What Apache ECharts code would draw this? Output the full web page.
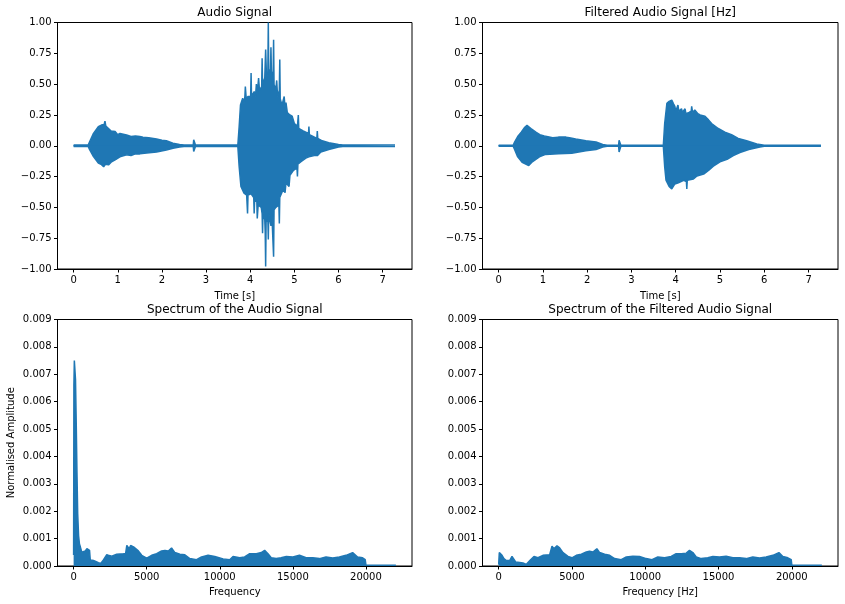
<!DOCTYPE html>
<html>
<head>
<meta charset="utf-8">
<script src="https://cdn.jsdelivr.net/npm/echarts@6/dist/echarts.min.js"></script>
<style>
html,body{margin:0;padding:0;background:#fff;}
#c{width:845px;height:604px;}
</style>
</head>
<body>
<div id="c"></div>
<script>
// ---- tick labels ----
const timeTicks = [0, 1, 2, 3, 4, 5, 6, 7];
const freqTicks = [0, 5000, 10000, 15000, 20000];

// ---- audio signal envelope [time s, amplitude] ----
const rawUpper = [[0,0.006],[0.33,0.006],[0.36,0.03],[0.45,0.10],[0.56,0.155],[0.64,0.17],[0.69,0.17],[0.71,0.20],[0.73,0.16],[0.79,0.14],[0.85,0.12],[0.94,0.115],[1.0,0.09],[1.05,0.10],[1.2,0.088],[1.3,0.075],[1.4,0.08],[1.5,0.075],[1.57,0.07],[1.7,0.065],[1.88,0.055],[2.0,0.045],[2.1,0.04],[2.25,0.02],[2.4,0.01],[2.5,0.006],[2.71,0.006],[2.72,0.048],[2.75,0.048],[2.76,0.006],[3.72,0.006],[3.75,0.156],[3.78,0.33],[3.83,0.386],[3.86,0.34],[3.88,0.40],[3.89,0.48],[3.91,0.38],[3.95,0.40],[4.01,0.40],[4.02,0.59],[4.03,0.40],[4.09,0.44],[4.12,0.40],[4.14,0.50],[4.16,0.42],[4.19,0.55],[4.21,0.45],[4.26,0.48],[4.27,0.71],[4.28,0.50],[4.33,0.55],[4.35,0.78],[4.37,0.55],[4.40,0.60],[4.41,1.0],[4.42,0.60],[4.46,0.62],[4.47,0.80],[4.48,0.60],[4.52,0.58],[4.53,0.86],[4.54,0.50],[4.58,0.45],[4.60,0.53],[4.62,0.40],[4.66,0.45],[4.67,0.70],[4.68,0.38],[4.72,0.33],[4.77,0.40],[4.79,0.30],[4.81,0.35],[4.84,0.27],[4.90,0.25],[4.95,0.24],[5.0,0.18],[5.07,0.16],[5.09,0.25],[5.10,0.14],[5.2,0.12],[5.32,0.10],[5.33,0.156],[5.34,0.09],[5.4,0.08],[5.51,0.06],[5.52,0.12],[5.53,0.06],[5.63,0.04],[5.78,0.025],[6.0,0.01],[6.1,0.006],[7.28,0.006]];
const rawLower = [[0,-0.006],[0.33,-0.006],[0.36,-0.03],[0.45,-0.088],[0.56,-0.14],[0.62,-0.15],[0.68,-0.17],[0.72,-0.15],[0.79,-0.155],[0.86,-0.13],[0.94,-0.115],[1.05,-0.09],[1.2,-0.074],[1.3,-0.08],[1.4,-0.066],[1.5,-0.066],[1.6,-0.06],[1.88,-0.05],[2.1,-0.035],[2.25,-0.02],[2.4,-0.01],[2.5,-0.006],[2.71,-0.006],[2.72,-0.047],[2.75,-0.047],[2.76,-0.006],[3.72,-0.006],[3.75,-0.17],[3.79,-0.33],[3.86,-0.385],[3.92,-0.40],[3.94,-0.55],[3.95,-0.40],[4.02,-0.39],[4.08,-0.42],[4.09,-0.55],[4.10,-0.45],[4.15,-0.45],[4.16,-0.59],[4.18,-0.48],[4.25,-0.50],[4.27,-0.55],[4.28,-0.71],[4.29,-0.55],[4.33,-0.60],[4.34,-0.70],[4.35,-0.98],[4.36,-0.62],[4.40,-0.60],[4.41,-0.76],[4.42,-0.55],[4.47,-0.65],[4.49,-0.55],[4.52,-0.55],[4.53,-0.90],[4.54,-0.52],[4.58,-0.50],[4.65,-0.48],[4.66,-0.63],[4.67,-0.42],[4.74,-0.36],[4.79,-0.38],[4.81,-0.30],[4.88,-0.33],[4.90,-0.24],[4.98,-0.20],[5.06,-0.18],[5.07,-0.25],[5.08,-0.15],[5.15,-0.13],[5.26,-0.10],[5.33,-0.09],[5.45,-0.08],[5.52,-0.08],[5.6,-0.05],[5.78,-0.03],[6.0,-0.01],[6.1,-0.006],[7.28,-0.006]];

// ---- filtered audio signal envelope [time s, amplitude] ----
const filtUpper = [[0,0.005],[0.33,0.005],[0.36,0.03],[0.43,0.075],[0.51,0.11],[0.59,0.15],[0.62,0.16],[0.64,0.165],[0.68,0.15],[0.73,0.14],[0.84,0.11],[0.93,0.09],[1.03,0.08],[1.22,0.065],[1.35,0.07],[1.52,0.07],[1.6,0.065],[1.74,0.055],[1.97,0.04],[2.2,0.03],[2.35,0.01],[2.45,0.005],[2.71,0.005],[2.72,0.045],[2.75,0.045],[2.76,0.005],[3.72,0.005],[3.75,0.18],[3.80,0.345],[3.85,0.36],[3.91,0.37],[3.95,0.34],[3.98,0.32],[4.00,0.28],[4.02,0.28],[4.05,0.33],[4.07,0.28],[4.10,0.27],[4.13,0.30],[4.15,0.27],[4.21,0.30],[4.23,0.26],[4.30,0.27],[4.35,0.28],[4.36,0.32],[4.38,0.27],[4.43,0.29],[4.50,0.26],[4.55,0.25],[4.66,0.24],[4.74,0.21],[4.81,0.18],[4.96,0.14],[5.11,0.11],[5.26,0.09],[5.41,0.06],[5.60,0.04],[5.83,0.015],[6.0,0.005],[7.28,0.005]];
const filtLower = [[0,-0.005],[0.33,-0.005],[0.36,-0.03],[0.43,-0.09],[0.53,-0.135],[0.68,-0.16],[0.76,-0.13],[0.92,-0.09],[1.06,-0.07],[1.35,-0.065],[1.65,-0.06],[1.97,-0.04],[2.2,-0.03],[2.35,-0.01],[2.45,-0.005],[2.71,-0.005],[2.72,-0.05],[2.75,-0.05],[2.76,-0.005],[3.72,-0.005],[3.75,-0.17],[3.78,-0.28],[3.85,-0.33],[3.91,-0.35],[3.98,-0.31],[4.06,-0.30],[4.18,-0.28],[4.24,-0.29],[4.25,-0.35],[4.26,-0.28],[4.40,-0.27],[4.48,-0.245],[4.63,-0.23],[4.74,-0.20],[4.85,-0.165],[5.0,-0.13],[5.16,-0.11],[5.3,-0.08],[5.45,-0.055],[5.65,-0.03],[5.9,-0.01],[6.0,-0.005],[7.28,-0.005]];

// ---- spectra [frequency Hz, normalised amplitude] ----
const specRaw = [[0,0.0004],[20,0.0066],[50,0.0075],[90,0.0075],[130,0.0068],[180,0.0052],[230,0.0034],[280,0.0019],[340,0.0011],[400,0.0008],[460,0.0007],[560,0.0005],[680,0.0005],[800,0.00055],[910,0.00063],[1020,0.0006],[1090,0.00057],[1140,0.00022],[1360,0.0002],[1480,0.00018],[1700,0.00012],[1860,0.00009],[1930,0.00007],[2050,0.00023],[2270,0.00041],[2450,0.00038],[2610,0.00036],[2950,0.00043],[3410,0.00045],[3560,0.00046],[3640,0.00075],[3700,0.0007],[3800,0.00063],[3900,0.00075],[3980,0.00078],[4100,0.0007],[4200,0.00067],[4430,0.00055],[4660,0.00039],[5000,0.00029],[5340,0.00039],[5680,0.00045],[6020,0.00055],[6250,0.00057],[6480,0.00055],[6700,0.00066],[6930,0.00049],[7270,0.00043],[7610,0.00041],[7950,0.00027],[8410,0.00023],[8750,0.00033],[9200,0.00039],[9660,0.00035],[10230,0.00026],[10680,0.00023],[10910,0.00035],[11360,0.0003],[11700,0.00033],[12050,0.00045],[12500,0.00045],[12840,0.00049],[13070,0.00057],[13300,0.00045],[13520,0.0003],[13860,0.00027],[14200,0.0003],[14550,0.00035],[15000,0.00033],[15450,0.00039],[15910,0.0003],[16360,0.0003],[16820,0.00027],[17270,0.00033],[17730,0.00029],[18180,0.00033],[18640,0.00039],[19090,0.00049],[19430,0.00033],[19770,0.0003],[19950,0.00023],[20000,0.00004],[20050,0.00003],[22050,0.00003]];
const specFilt = [[0,0.00005],[45,0.00049],[140,0.0005],[230,0.00039],[360,0.00027],[520,0.0002],[750,0.0002],[910,0.00035],[1020,0.00035],[1160,0.00015],[1430,0.00013],[1660,0.00011],[1890,0.00006],[2000,0.00007],[2180,0.00023],[2410,0.00035],[2680,0.0003],[3020,0.00039],[3480,0.00041],[3600,0.00045],[3640,0.00072],[3770,0.00063],[3980,0.00074],[4160,0.00066],[4390,0.00049],[4730,0.00035],[5000,0.0003],[5300,0.00039],[5640,0.00043],[5980,0.00051],[6200,0.00054],[6430,0.00051],[6700,0.00063],[6890,0.00049],[7230,0.00043],[7570,0.00039],[7910,0.00027],[8360,0.00023],[8710,0.00033],[9160,0.00036],[9610,0.00035],[10070,0.00027],[10460,0.00023],[10860,0.00033],[11320,0.0003],[11770,0.00035],[12110,0.00045],[12460,0.00045],[12800,0.00047],[13020,0.00057],[13250,0.00049],[13480,0.00033],[13820,0.00027],[14270,0.0003],[14620,0.00035],[15070,0.00033],[15520,0.00036],[15980,0.0003],[16430,0.0003],[16890,0.00027],[17340,0.00033],[17800,0.00029],[18250,0.00033],[18710,0.00039],[19120,0.00049],[19390,0.00035],[19730,0.0003],[19960,0.00023],[20000,0.00004],[20050,0.00003],[22050,0.00003]];

const BLUE = '#1f77b4';
const FONT = 'DejaVu Sans';
const INK = '#000';
const grids = [
  {left: 57.5, top: 22.5, width: 354.5, height: 246.5},
  {left: 482.5, top: 22.5, width: 355.5, height: 246.5},
  {left: 57.5, top: 319.5, width: 354.5, height: 246.5},
  {left: 482.5, top: 319.5, width: 355.5, height: 246.5}
];
const fmtSigned = d => v => (v < 0 ? '\u2212' : '') + Math.abs(v).toFixed(d);

function xAxisFor(i, min, max, ticks, name, gap) {
  return {
    type: 'value', gridIndex: i, min: min, max: max,
    name: name, nameLocation: 'middle', nameGap: gap,
    nameTextStyle: {fontFamily: FONT, fontSize: 10, color: INK},
    axisLine: {show: true, onZero: false, lineStyle: {color: INK, width: 1}},
    axisTick: {show: true, length: 3.5, inside: false, customValues: ticks, lineStyle: {color: INK, width: 1}},
    axisLabel: {customValues: ticks, margin: 6, fontFamily: FONT, fontSize: 10, color: INK, formatter: v => String(v)},
    splitLine: {show: false}
  };
}
function yAxisFor(i, min, max, interval, dec, name) {
  return {
    type: 'value', gridIndex: i, min: min, max: max, interval: interval,
    name: name || '', nameLocation: 'middle', nameGap: 41,
    nameTextStyle: {fontFamily: FONT, fontSize: 10, color: INK},
    axisLine: {show: true, onZero: false, lineStyle: {color: INK, width: 1}},
    axisTick: {show: true, length: 3.5, inside: false, lineStyle: {color: INK, width: 1}},
    axisLabel: {margin: 6, fontFamily: FONT, fontSize: 10, color: INK, formatter: fmtSigned(dec)},
    splitLine: {show: false}
  };
}
function area(i, data, origin) {
  return {
    type: 'line', xAxisIndex: i, yAxisIndex: i, data: data,
    showSymbol: false, symbol: 'none', silent: true,
    lineStyle: {color: BLUE, width: 1.5},
    areaStyle: {color: BLUE, opacity: 1, origin: origin}
  };
}

const chart = echarts.init(document.getElementById('c'), null, {renderer: 'canvas'});
chart.setOption({
  animation: false,
  backgroundColor: '#fff',
  grid: grids.map(g => Object.assign({show: true, borderColor: INK, borderWidth: 1, backgroundColor: 'transparent'}, g)),
  xAxis: [
    xAxisFor(0, -0.365, 7.665, timeTicks, 'Time [s]', 22),
    xAxisFor(1, -0.365, 7.665, timeTicks, 'Time [s]', 22),
    xAxisFor(2, -1102.5, 23152.5, freqTicks, 'Frequency', 21),
    xAxisFor(3, -1102.5, 23152.5, freqTicks, 'Frequency [Hz]', 21)
  ],
  yAxis: [
    yAxisFor(0, -1, 1, 0.25, 2),
    yAxisFor(1, -1, 1, 0.25, 2),
    yAxisFor(2, 0, 0.009, 0.001, 3, 'Normalised Amplitude'),
    yAxisFor(3, 0, 0.009, 0.001, 3)
  ],
  graphic: [
    {type: 'text', x: 234.75, y: 12.5, style: {text: 'Audio Signal', font: '12px "DejaVu Sans"', fill: INK, textAlign: 'center', textVerticalAlign: 'middle'}},
    {type: 'text', x: 660.25, y: 12.5, style: {text: 'Filtered Audio Signal [Hz]', font: '12px "DejaVu Sans"', fill: INK, textAlign: 'center', textVerticalAlign: 'middle'}},
    {type: 'text', x: 234.75, y: 309.5, style: {text: 'Spectrum of the Audio Signal', font: '12px "DejaVu Sans"', fill: INK, textAlign: 'center', textVerticalAlign: 'middle'}},
    {type: 'text', x: 660.25, y: 309.5, style: {text: 'Spectrum of the Filtered Audio Signal', font: '12px "DejaVu Sans"', fill: INK, textAlign: 'center', textVerticalAlign: 'middle'}}
  ],
  series: [
    area(0, rawUpper, -0.004), area(0, rawLower, 0.004),
    area(1, filtUpper, -0.004), area(1, filtLower, 0.004),
    area(2, specRaw, 0),
    area(3, specFilt, 0)
  ]
});
</script>
</body>
</html>
